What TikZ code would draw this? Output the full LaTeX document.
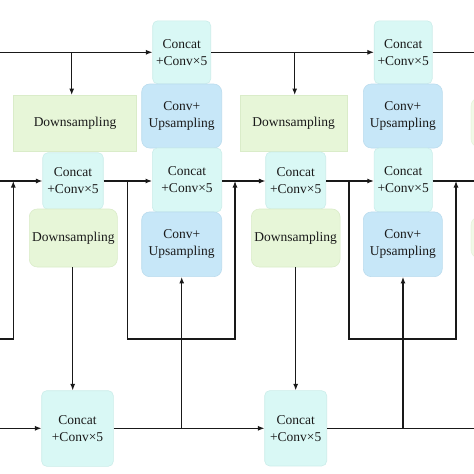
\documentclass[tikz,border=0pt]{standalone}
\usepackage{fontspec}
\setmainfont{Liberation Serif}
\usetikzlibrary{arrows.meta}
\definecolor{ccat}{HTML}{D9F8F5}
\definecolor{ccatb}{HTML}{CBEDEA}
\definecolor{cdown}{HTML}{E7F6D8}
\definecolor{cdownb}{HTML}{DAECC9}
\definecolor{cup}{HTML}{C7E7F8}
\definecolor{cupb}{HTML}{BBDCEE}
\definecolor{ctext}{HTML}{1A1A1A}
\tikzset{
  box/.style={inner sep=0pt, align=center, text=ctext,
    font=\fontsize{13.5}{17}\selectfont, line width=0.6pt},
  catbox/.style={box, fill=ccat, draw=ccatb, rounded corners=5pt},
  downbox/.style={box, fill=cdown, draw=cdownb},
  downrbox/.style={box, fill=cdown, draw=cdownb, rounded corners=8pt},
  upbox/.style={box, fill=cup, draw=cupb, rounded corners=8pt},
  conn/.style={line width=1.1pt, draw=black!90},
  arr/.style={conn, -{Latex[length=6.5pt,width=5pt]}},
}
\begin{document}
\begin{tikzpicture}[x=1pt,y=-1pt]
\useasboundingbox (0,0) rectangle (474,474);
\clip (0,0) rectangle (474,474);
\fill[white] (0,0) rectangle (474,474);
% boxes
\node[catbox, minimum width=58pt, minimum height=63pt] (tA) at (181.7,52.3) {Concat\\+Conv×5};
\node[catbox, minimum width=58pt, minimum height=63pt] (tB) at (403.2,52.3) {Concat\\+Conv×5};
\node[downbox, minimum width=123pt, minimum height=56.5pt] (dA) at (75,123.3) {Downsampling};
\node[downbox, minimum width=107pt, minimum height=56.5pt] (dB) at (293.7,123.5) {Downsampling};
\node[upbox, minimum width=80pt, minimum height=64pt] (uA) at (181.7,116) {Conv+\\Upsampling};
\node[upbox, minimum width=79pt, minimum height=64pt] (uB) at (402.8,116) {Conv+\\Upsampling};
\node[catbox, minimum width=60.5pt, minimum height=56.5pt] (mA) at (73,181) {Concat\\+Conv×5};
\node[catbox, minimum width=69.4pt, minimum height=64pt] (mB) at (187,180) {Concat\\+Conv×5};
\node[catbox, minimum width=60pt, minimum height=57pt] (mC) at (295.7,180.5) {Concat\\+Conv×5};
\node[catbox, minimum width=58.3pt, minimum height=64pt] (mD) at (403.2,180) {Concat\\+Conv×5};
\node[downrbox, minimum width=88pt, minimum height=58pt] (eA) at (73.3,238) {Downsampling};
\node[downrbox, minimum width=88.7pt, minimum height=58pt] (eB) at (295.7,238) {Downsampling};
\node[upbox, minimum width=80pt, minimum height=64.7pt] (vA) at (181.7,244.3) {Conv+\\Upsampling};
\node[upbox, minimum width=79pt, minimum height=64.7pt] (vB) at (402.8,244.3) {Conv+\\Upsampling};
\node[catbox, minimum width=71.6pt, minimum height=75.6pt] (bA) at (77.5,428.5) {Concat\\+Conv×5};
\node[catbox, minimum width=62pt, minimum height=75.3pt] (bB) at (295.7,428.3) {Concat\\+Conv×5};
% partial boxes on the right edge
\node[downrbox, fill opacity=0.6, draw opacity=0.5, minimum width=40pt, minimum height=49pt] (pA) at (491,122.5) {};
\node[downrbox, fill opacity=0.6, draw opacity=0.5, minimum width=40pt, minimum height=41pt] (pB) at (491,237.5) {};
% coordinates
\coordinate (tl) at (0,52.3);
\coordinate (tr) at (474,52.3);
\coordinate (ml) at (0,181);
\coordinate (mr) at (474,181);
\coordinate (bl) at (0,428.3);
\coordinate (br) at (474,428.3);
\coordinate (lA) at (0,339);
% top row
\draw[arr] (tl) -- (tA.west |- tl);
\draw[arr] (tA.east |- tl) -- (tB.west |- tl);
\draw[conn] (tB.east |- tl) -- (tr);
\draw[arr] (71.7,52.3) -- (71.7,95);
\draw[arr] (294.7,52.3) -- (294.7,95);
% middle row
\draw[arr] (ml) -- (mA.west |- ml);
\draw[arr] (mA.east |- ml) -- (mB.west |- ml);
\draw[arr] (mB.east |- ml) -- (mC.west |- ml);
\draw[arr] (mC.east |- ml) -- (mD.west |- ml);
\draw[conn] (mD.east |- ml) -- (mr);
% loops
\draw[arr] (lA) -- (13.3,339) -- (13.3,181);
\draw[arr] (127.7,181) -- (127.7,339) -- (235,339) -- (235,181);
\draw[arr] (349,181) -- (349,339) -- (456,339) -- (456,181);
% down arrows to bottom
\draw[arr] (eA.south -| 72.7,0) -- (bA.north -| 72.7,0);
\draw[arr] (eB.south) -- (bB.north);
% bottom row
\draw[arr] (bl) -- (bA.west |- bl);
\draw[arr] (bA.east |- bl) -- (bB.west |- bl);
\draw[conn] (bB.east |- bl) -- (br);
\draw[arr] (181.7,428.3) -- (vA.south);
\draw[arr] (403,428.3) -- (vB.south -| 403,0);
\end{tikzpicture}
\end{document}
